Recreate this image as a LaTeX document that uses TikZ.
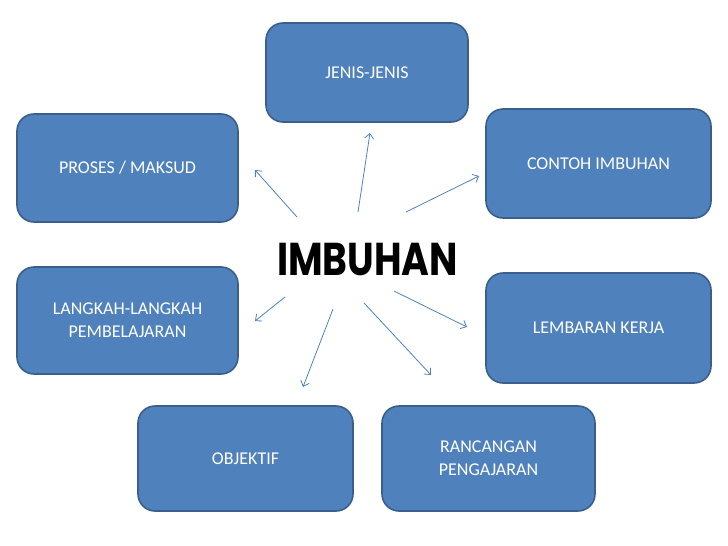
\documentclass[tikz,border=0pt]{standalone}
\usepackage{fontspec}
\setmainfont{Carlito}
\newfontfamily\titlefont{Poppins}
\usetikzlibrary{arrows.meta}

\definecolor{boxblue}{HTML}{4F81BD}
\definecolor{boxedge}{HTML}{3A5F8B}

\tikzset{
  kotak/.style={draw=boxedge, line width=1.6pt, fill=boxblue, rounded corners=17pt,
    text=white, align=center, font=\fontsize{18}{23}\selectfont, inner sep=0pt},
  panah/.style={draw=boxblue, line width=0.8pt, -{Straight Barb[length=5pt,width=9pt]}}
}

\begin{document}
\begin{tikzpicture}[x=1pt,y=-1pt]
\useasboundingbox (0,0) rectangle (728,546);

% kotak-kotak
\node[kotak, minimum width=202pt, minimum height=99pt]  (jenis)    at (367,72.5)   {JENIS-JENIS};
\node[kotak, minimum width=221pt, minimum height=108pt] (proses)   at (127.5,168)  {PROSES / MAKSUD};
\node[kotak, minimum width=225pt, minimum height=109pt] (contoh)   at (598.5,163.5) {CONTOH IMBUHAN};
\node[kotak, minimum width=221pt, minimum height=107pt] (langkah)  at (127.5,320.5) {LANGKAH-LANGKAH\\PEMBELAJARAN};
\node[kotak, minimum width=225pt, minimum height=110pt] (lembaran) at (598.5,328)  {LEMBARAN KERJA};
\node[kotak, minimum width=215pt, minimum height=105pt] (objektif) at (245.5,458.5) {OBJEKTIF};
\node[kotak, minimum width=213pt, minimum height=105pt] (rancangan) at (488.5,458.5) {RANCANGAN\\PENGAJARAN};

\node[xscale=0.82, font=\titlefont\bfseries\fontsize{46}{46}\selectfont] (imbuhan) at (367.5,259.5) {IMBUHAN};

% hujung anak panah
\coordinate (a1) at (358,212);  \coordinate (b1) at (370,133);
\coordinate (a2) at (297,217);  \coordinate (b2) at (255,170);
\coordinate (a3) at (406,212);  \coordinate (b3) at (479,176);
\coordinate (a4) at (285,297);  \coordinate (b4) at (255,321);
\coordinate (a5) at (333,309);  \coordinate (b5) at (303,387);
\coordinate (a6) at (364,303);  \coordinate (b6) at (431,375);
\coordinate (a7) at (394,291);  \coordinate (b7) at (467,327);

\foreach \i in {1,...,7}
  \draw[panah] (a\i) -- (b\i);

\end{tikzpicture}
\end{document}
